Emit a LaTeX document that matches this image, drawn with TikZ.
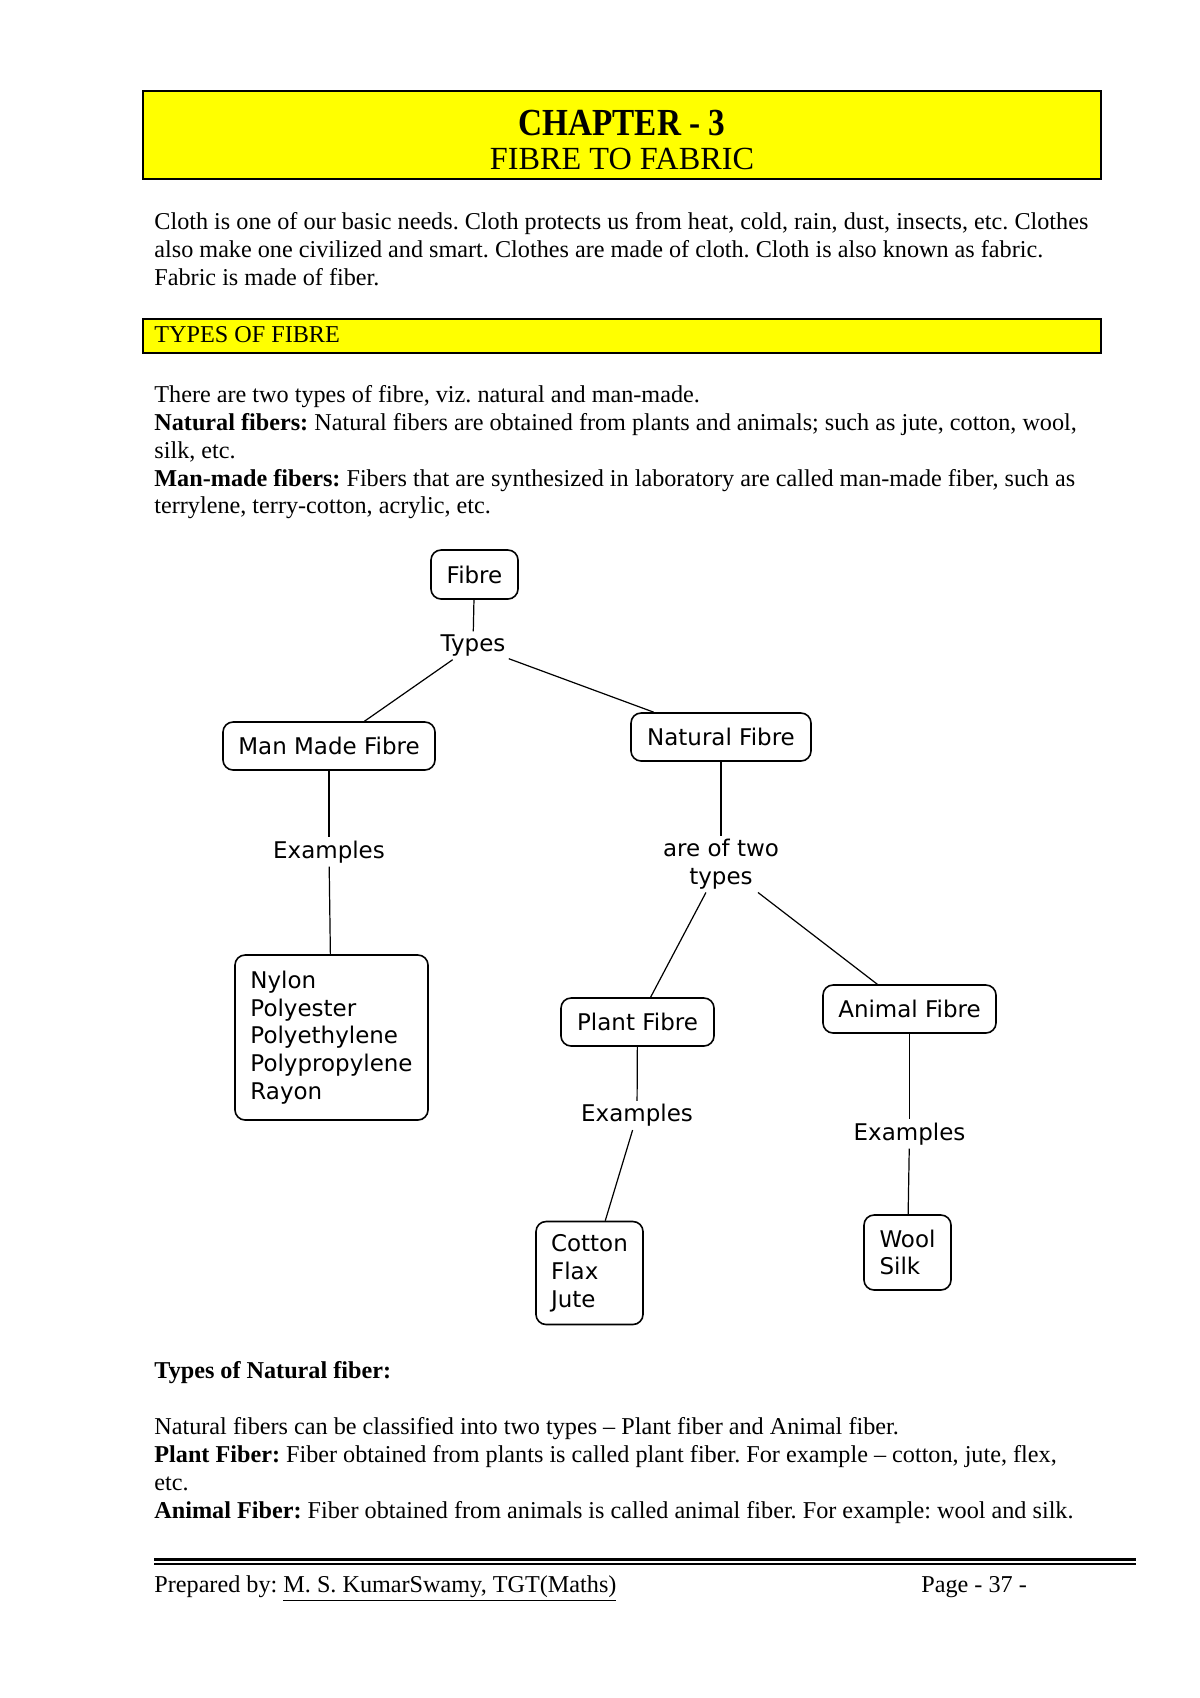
\documentclass[tikz,border=0pt]{standalone}
\usepackage{fontspec}
\usepackage{graphicx}
\setmainfont{Liberation Serif}
\newfontfamily\cmapfont{DejaVu Sans}
\usetikzlibrary{positioning}
\definecolor{hdryellow}{RGB}{255,255,0}
\def \px {0.496pt}
\def \lmarg {154}
\tikzstyle{txt} = [anchor=base west,inner sep=0,font=\fontsize{12}{14}\selectfont]
\tikzstyle{hdr} = [draw,line width=0.9pt,fill=hdryellow]
\tikzstyle{concept} = [draw,line width=0.8pt,rounded corners=5pt,inner sep=0,align=left,font=\cmapfont\fontsize{11.4}{13.8}\selectfont]
\tikzstyle{linkword} = [inner sep=1.5pt,align=center,font=\cmapfont\fontsize{11.4}{13.8}\selectfont]
\tikzstyle{link} = [-,line width=0.6pt]
\tikzset{boxsize/.style 2 args={minimum width=#1*\px,minimum height=#2*\px}}
\frenchspacing

\begin{document}
\begin{tikzpicture}[x=\px,y=-\px]
      \path[fill=white,use as bounding box] (0,0) rectangle (1200,1698);
      \draw[hdr] (143,91) rectangle (1101,179);
      \node[anchor=base,inner sep=0,font=\bfseries\fontsize{16.5}{18}\selectfont] (chap) at (622,135) {\scalebox{1}[1.15]{CHAPTER - 3}};
      \node[anchor=base,inner sep=0,font=\fontsize{16}{18}\selectfont] (title) at (622,169) {FIBRE TO FABRIC};
      \node[txt] (p1a) at (\lmarg,229) {Cloth is one of our basic needs. Cloth protects us from heat, cold, rain, dust, insects, etc. Clothes};
      \node[txt] (p1b) at (\lmarg,257) {also make one civilized and smart. Clothes are made of cloth. Cloth is also known as fabric.};
      \node[txt] (p1c) at (\lmarg,285) {Fabric is made of fiber.};
      \draw[hdr] (143,319) rectangle (1101,353);
      \node[txt] (sec) at (\lmarg,342) {TYPES OF FIBRE};
      \node[txt] (p2a) at (\lmarg,402) {There are two types of fibre, viz. natural and man-made.};
      \node[txt] (p2b) at (\lmarg,430) {\textbf{Natural fibers:} Natural fibers are obtained from plants and animals; such as jute, cotton, wool,};
      \node[txt] (p2c) at (\lmarg,458) {silk, etc.};
      \node[txt] (p2d) at (\lmarg,486) {\textbf{Man-made fibers:} Fibers that are synthesized in laboratory are called man-made fiber, such as};
      \node[txt] (p2e) at (\lmarg,513) {terrylene, terry-cotton, acrylic, etc.};

      \node[concept,boxsize={87}{49}] (fib) at (474.5,574.5) {Fibre};
      \node[linkword] (ty) at (473,645.5) {Types};
      \node[concept,boxsize={212}{48}] (mmf) at (329,746) {Man Made Fibre};
      \node[concept,boxsize={180}{48}] (nf) at (721,737) {Natural Fibre};
      \node[linkword] (ex1) at (329,852) {Examples};
      \node[concept,boxsize={193}{165}] (mml) at (331.5,1037.5) {Nylon\\Polyester\\Polyethylene\\Polypropylene\\Rayon};
      \node[linkword] (two) at (721,864) {are of two\\types};
      \node[concept,boxsize={153}{48}] (pf) at (637.5,1022) {Plant Fibre};
      \node[concept,boxsize={173}{48}] (af) at (909.5,1009) {Animal Fibre};
      \node[linkword] (ex2) at (637,1115.5) {Examples};
      \node[concept,boxsize={107}{103}] (pfl) at (589.5,1273) {Cotton\\Flax\\Jute};
      \node[linkword] (ex3) at (909.5,1134) {Examples};
      \node[concept,boxsize={87}{75}] (afl) at (907.5,1252.5) {Wool\\Silk};
      \draw[link] (fib) -- (ty);
      \draw[link] (ty) -- (mmf);
      \draw[link] (ty) -- (nf);
      \draw[link] (mmf) -- (ex1);
      \draw[link] (ex1) -- (mml);
      \draw[link] (nf) -- (two);
      \draw[link] (two) -- (pf);
      \draw[link] (two) -- (af);
      \draw[link] (pf) -- (ex2);
      \draw[link] (ex2) -- (pfl);
      \draw[link] (af) -- (ex3);
      \draw[link] (ex3) -- (afl);

      \node[txt,font=\bfseries\fontsize{12}{14}\selectfont] (sub) at (\lmarg,1378) {Types of Natural fiber:};
      \node[txt] (p3a) at (\lmarg,1434) {Natural fibers can be classified into two types – Plant fiber and Animal fiber.};
      \node[txt] (p3b) at (\lmarg,1462) {\textbf{Plant Fiber:} Fiber obtained from plants is called plant fiber. For example – cotton, jute, flex,};
      \node[txt] (p3c) at (\lmarg,1490) {etc.};
      \node[txt] (p3d) at (\lmarg,1518) {\textbf{Animal Fiber:} Fiber obtained from animals is called animal fiber. For example: wool and silk.};
      \draw[line width=1.3pt] (154,1559.5) -- (1136,1559.5);
      \draw[line width=0.7pt] (154,1564) -- (1136,1564);
      \node[txt] (prep) at (\lmarg,1592) {Prepared by: \underline{M. S. KumarSwamy, TGT(Maths)}};
      \node[txt] (pg) at (921,1592) {Page - 37 -};
\end{tikzpicture}
\end{document}
